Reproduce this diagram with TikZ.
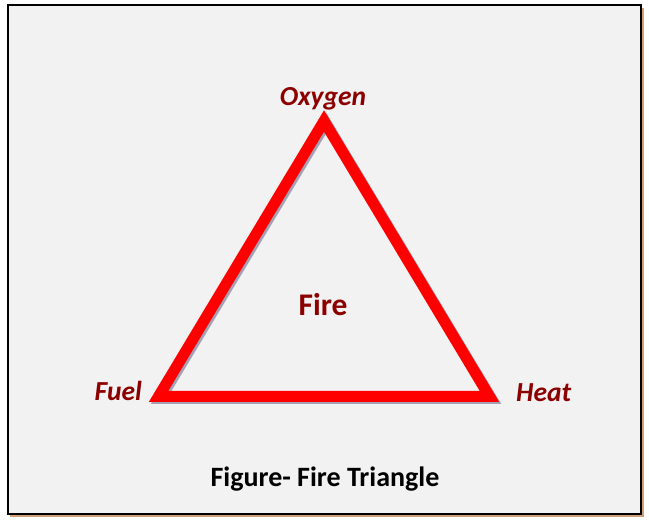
\documentclass[tikz,border=0pt]{standalone}
\usepackage{fontspec}
\setmainfont{Carlito}
\usetikzlibrary{positioning}

\definecolor{firered}{RGB}{255,0,0}
\definecolor{labelred}{RGB}{140,0,0}
\definecolor{panelgray}{RGB}{242,242,242}
\definecolor{paneltan}{RGB}{205,160,120}
\definecolor{edgeshade}{RGB}{165,160,180}

\begin{document}
\begin{tikzpicture}[x=1pt,y=-1pt,
  cornerlabel/.style={font=\fontsize{27.5}{32}\selectfont\bfseries\itshape,text=labelred,inner sep=0pt},
  side/.style={line width=11pt,line join=miter}]
\useasboundingbox (0,0) rectangle (649,521);

% Panel
\fill[paneltan] (10,8) rectangle (644,517);
\draw[black,line width=2pt,fill=panelgray] (8,5) rectangle (641,514);

% Triangle corners
\coordinate (oxy) at (324,121);
\coordinate (fuel) at (158.5,396.5);
\coordinate (heat) at (489.5,396.5);

% Triangle
\draw[side,edgeshade] ([shift={(2,2)}]oxy) -- ([shift={(2,2)}]fuel) -- ([shift={(2,2)}]heat) -- cycle;
\draw[side,firered] (oxy) -- (fuel) -- (heat) -- cycle;

% Corner labels
\node[cornerlabel,anchor=base] (oxylabel) at (323,106) {Oxygen};
\node[cornerlabel,anchor=base east] (fuellabel) at (142,401) {Fuel};
\node[cornerlabel,anchor=base west] (heatlabel) at (516,402) {Heat};

% Middle
\node[font=\fontsize{31.5}{36}\selectfont\bfseries,text=labelred,anchor=base] (fire) at (323,316) {Fire};

% Caption
\node[font=\fontsize{28}{32}\selectfont\bfseries,anchor=base] (caption) at (325,487) {Figure- Fire Triangle};

\end{tikzpicture}
\end{document}
